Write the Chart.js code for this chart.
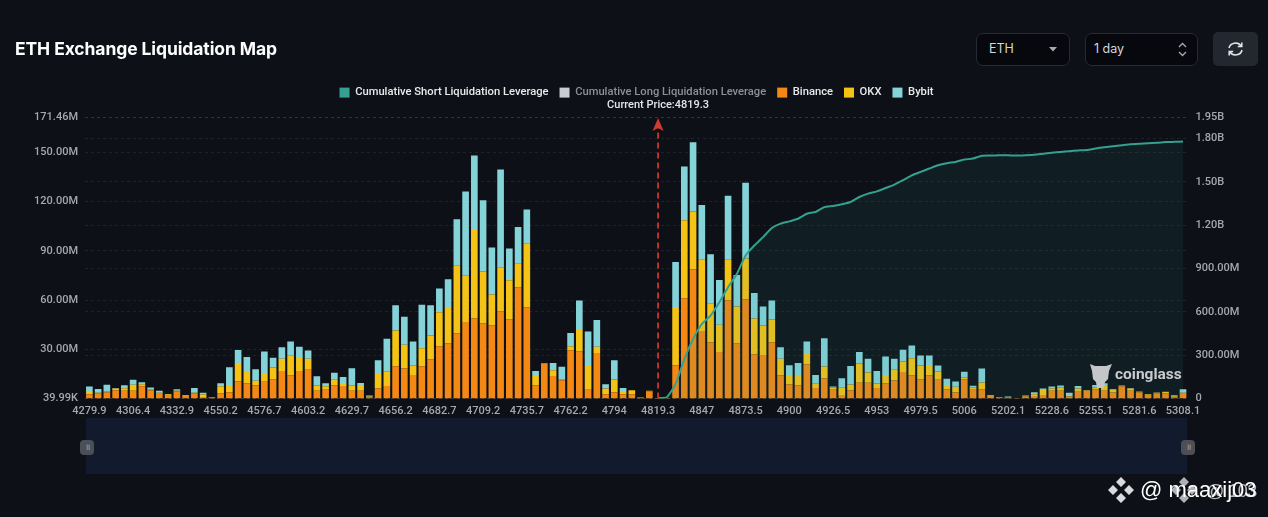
<!DOCTYPE html>
<html><head><meta charset="utf-8">
<script src="https://cdn.jsdelivr.net/npm/chart.js@4"></script>
<style>
html,body{margin:0;padding:0;background:#0d1017;width:1268px;height:517px;overflow:hidden;font-family:Roboto,sans-serif}
#c{position:absolute;left:0;top:0}
.abs{position:absolute}
#title{left:15px;top:38px;color:#fff;font:700 17.5px Inter,sans-serif;line-height:22px;letter-spacing:-.1px}
.sel{top:33px;height:31px;background:#06080d;border:1px solid #262a33;border-radius:7px;color:#d4d6da;font:12.5px Inter,sans-serif;line-height:30px;box-sizing:content-box}
#btn{left:1213px;top:32px;width:45px;height:34px;background:#23272f;border-radius:5px}
#slider{left:86px;top:418px;width:1101px;height:56px;background:#121a2d}
.handle{top:440px;width:14px;height:15px;background:#4c4f55;border-radius:4px;color:#a8aaad;font:9px Roboto;text-align:center;line-height:14px}
#cg{left:1115px;top:363px;color:#c9cbce;font:700 15.5px Roboto,sans-serif;line-height:22px}
.wm{color:#fff;font:22px "Liberation Sans",sans-serif;line-height:26px;white-space:nowrap}
</style></head><body>
<canvas id="c" width="1268" height="517"></canvas>
<div class="abs" id="title">ETH Exchange Liquidation Map</div>
<div class="abs sel" style="left:976px;width:92px"><span style="margin-left:12px">ETH</span>
 <svg class="abs" style="left:72px;top:13px" width="8" height="5"><path d="M0 0H8L4 4.5Z" fill="#a8aab0"/></svg></div>
<div class="abs sel" style="left:1085px;width:111px"><span style="margin-left:8px">1 day</span>
 <svg class="abs" style="left:92px;top:8px" width="9" height="15"><path d="M1 5L4.5 1.5L8 5M1 10L4.5 13.5L8 10" fill="none" stroke="#a8aab0" stroke-width="1.3"/></svg></div>
<div class="abs" id="btn"><svg class="abs" style="left:14px;top:9px" width="17" height="16" viewBox="0 0 17 16" fill="none" stroke="#e6e7e9" stroke-width="1.5">
 <path d="M2 7A6.5 6 0 0 1 14 5M15 9A6.5 6 0 0 1 3 11"/><path d="M14.8 1.6V5.6H10.8M2.2 14.4V10.4H6.2"/></svg></div>
<div class="abs" id="slider"></div>
<div class="abs handle" style="left:80px">॥</div>
<div class="abs handle" style="left:1181px">॥</div>
<svg class="abs" style="left:1089px;top:362px" width="24" height="27" viewBox="0 0 24 27"><path d="M1 2L6 4H17L23 2L20 9L19 17L16 20L15 26H8L7 20L4 17L3 9Z" fill="#c4c6c9"/></svg>
<div class="abs" id="cg">coinglass</div>
<svg class="abs" style="left:1107px;top:476px" width="28" height="28" viewBox="0 0 28 28" fill="#d9dadc"><path d="M14 1L19 6L14 11L9 6ZM6 9L11 14L6 19L1 14ZM22 9L27 14L22 19L17 14ZM14 17L19 22L14 27L9 22Z"/></svg>
<svg class="abs" style="left:1170px;top:476px" width="28" height="28" viewBox="0 0 28 28" fill="#d9dadc" opacity=".8"><path d="M14 1L19 6L14 11L9 6ZM6 9L11 14L6 19L1 14ZM22 9L27 14L22 19L17 14ZM14 17L19 22L14 27L9 22Z"/></svg>
<div class="abs wm" style="left:1140px;top:477px">@ maaxij03</div>
<div class="abs wm" style="left:1206px;top:478px;opacity:.7;font-size:18px;letter-spacing:-.5px">@ 103</div>
<script>
const tickLabels=["4279.9","4306.4","4332.9","4550.2","4576.7","4603.2","4629.7","4656.2","4682.7","4709.2","4735.7","4762.2","4794","4819.3","4847","4873.5","4900","4926.5","4953","4979.5","5006","5202.1","5228.6","5255.1","5281.6","5308.1"];
const leftTickValues=[0.03999,30,60,90,120,150,171.46];
const leftTickLabels=["39.99K","30.00M","60.00M","90.00M","120.00M","150.00M","171.46M"];
const rightTickValues=[0,300,600,900,1200,1500,1800,1950];
const rightTickLabels=["0","300.00M","600.00M","900.00M","1.20B","1.50B","1.80B","1.95B"];
const currentPriceLabel="Current Price:4819.3";
const currentPriceIndex=65;
const binance=[2.6,3.2,3.9,5.1,4.7,4.7,7.5,4.9,3.0,2.2,4.3,1.6,3.2,1.0,0.4,3.2,3.9,10.4,9.3,8.1,10.2,11.8,16.8,14.2,16.8,17.5,4.7,5.3,7.9,7.7,4.7,4.7,0.6,6.1,7.7,19.7,18.3,14.4,19.7,24.0,31.7,33.7,39.8,46.7,48.9,45.9,44.7,53.2,48.3,67.8,55.6,8.1,21.3,13.8,11.2,29.2,28.8,5.3,27.8,2.6,3.7,2.6,2.6,0.2,4.5,0.2,0.2,20.3,61.1,78.8,41.2,34.1,28.4,59.9,33.7,60.5,27.0,26.0,34.3,14.0,8.7,7.9,20.9,6.5,12.4,5.3,2.2,4.9,9.7,9.7,6.5,9.3,11.0,16.2,14.0,11.8,14.2,11.4,5.7,3.7,11.8,5.3,5.7,1.6,0.4,0.6,0.2,1.2,1.6,2.2,4.7,4.7,1.2,4.1,4.7,5.7,4.7,3.7,7.3,4.7,3.7,2.2,3.2,3.2,0.6,3.0];
const okx=[2.0,0.4,0.4,1.0,1.6,3.7,1.2,0.6,0.6,0.4,0.4,0.4,0.4,1.4,0.2,4.3,3.7,11.2,7.5,2.8,5.3,7.1,7.5,12.2,8.5,6.7,3.2,2.2,3.5,1.8,3.2,3.0,0.6,9.5,8.7,21.7,14.4,5.7,11.0,14.4,20.9,22.1,41.4,28.4,53.8,31.5,18.7,26.8,23.8,14.6,39.0,5.7,0.1,3.5,0.4,2.6,13.0,15.2,3.7,3.5,7.9,2.0,2.4,0.2,0.2,0.1,0.1,35.5,47.5,35.1,43.6,24.0,16.6,24.6,22.3,24.8,21.7,18.5,13.8,10.2,5.1,5.9,6.9,2.8,7.1,1.4,4.7,3.7,11.6,6.1,2.6,5.1,6.9,6.3,10.6,8.3,6.3,5.1,2.6,3.5,1.0,1.5,4.1,0.4,0.2,0.4,0.1,0.6,1.0,3.0,1.4,2.0,0.4,2.0,0.4,1.0,3.0,1.6,0.4,1.4,0.4,0.4,0.4,0.8,0.8,0.6];
const bybit=[2.8,2.2,4.1,0.4,1.8,3.0,1.2,1.2,1.2,0.2,1.0,0.1,2.8,1.2,0.2,1.8,11.4,7.9,8.5,6.9,13.2,5.9,6.9,8.3,6.3,5.1,5.7,1.8,4.3,3.7,10.6,1.8,0.6,7.7,20.1,15.4,17.1,14.6,26.4,18.5,14.4,16.8,28.0,51.0,45.3,43.4,28.6,59.5,19.3,22.1,20.5,3.0,0.2,4.3,7.7,8.1,17.9,20.3,16.4,2.6,11.8,1.8,0.1,0.2,0.1,0.1,0.1,27.4,32.7,42.2,33.1,29.8,27.2,39.0,19.3,46.1,15.6,11.6,11.6,7.1,6.5,7.9,6.9,5.1,17.3,0.6,5.5,11.2,7.1,8.5,7.7,11.2,6.3,7.3,7.7,6.1,5.7,3.7,3.7,3.2,3.5,1.0,8.5,0.2,0.2,0.2,0.1,0.1,1.2,1.0,1.2,1.2,2.0,1.6,0.1,1.6,1.6,0.6,0.2,0.4,0.2,0.1,0.1,0.2,0.6,2.0];
const cumulativeShort=[null,null,null,null,null,null,null,null,null,null,null,null,null,null,null,null,null,null,null,null,null,null,null,null,null,null,null,null,null,null,null,null,null,null,null,null,null,null,null,null,null,null,null,null,null,null,null,null,null,null,null,null,null,null,null,null,null,null,null,null,null,null,null,null,null,2,9,100,273,412,516,574,667,771,863,991,1060,1118,1181,1211,1227,1245,1280,1292,1326,1333,1345,1361,1396,1419,1435,1458,1482,1512,1546,1570,1593,1616,1630,1639,1655,1662,1681,1683,1685,1685,1683,1685,1688,1695,1702,1708,1713,1718,1722,1732,1741,1748,1755,1762,1764,1769,1771,1776,1778,1780];
const cumulativeLong=[];
const categories=[];
tickLabels.forEach((t,i)=>{categories.push(t);if(i<tickLabels.length-1)categories.push("","","","");});

const legendHeight={id:'legendHeight',beforeLayout(ch){
  const l=ch.legend;if(!l||l._wrapped)return;const f=l.fit;l._wrapped=true;
  l.fit=function(){f.call(this);this.height=41;};
}};
const priceMarker={id:'priceMarker',afterDatasetsDraw(ch){
  const c=ch.ctx,x=ch.scales.x.getPixelForValue(currentPriceIndex),b=ch.scales.y.bottom,t=ch.chartArea.top;
  c.save();c.strokeStyle='#cc352d';c.fillStyle='#d13a31';c.lineWidth=1.8;c.setLineDash([6,4]);
  c.beginPath();c.moveTo(x,b);c.lineTo(x,t+10);c.stroke();c.setLineDash([]);
  c.beginPath();c.moveTo(x,t+1);c.lineTo(x+5.5,t+14);c.lineTo(x,t+11);c.lineTo(x-5.5,t+14);c.closePath();c.fill();
  c.fillStyle='#e4e5e7';c.font='500 11px Roboto';c.textAlign='center';c.textBaseline='middle';
  c.fillText(currentPriceLabel,x,t-11.5);c.restore();
}};
new Chart(document.getElementById('c'),{
  type:'bar',
  plugins:[legendHeight,priceMarker],
  data:{labels:categories,datasets:[
    {type:'line',label:'Cumulative Short Liquidation Leverage',data:cumulativeShort,yAxisID:'y1',borderColor:'#35a08f',backgroundColor:'rgba(53,160,143,0.10)',borderWidth:2,pointRadius:0,tension:0.15,fill:'origin',order:0,spanGaps:false},
    {type:'line',label:'Cumulative Long Liquidation Leverage',data:cumulativeLong,yAxisID:'y1',borderColor:'#c9ccd0',backgroundColor:'#c9ccd0',borderWidth:2,pointRadius:0,order:0},
    {label:'Binance',data:binance,backgroundColor:'#f38814',stack:'a',order:1,yAxisID:'y'},
    {label:'OKX',data:okx,backgroundColor:'#f5c316',stack:'a',order:1,yAxisID:'y'},
    {label:'Bybit',data:bybit,backgroundColor:'#84d3d9',stack:'a',order:1,yAxisID:'y'}
  ]},
  options:{
    responsive:false,animation:false,maintainAspectRatio:false,
    layout:{padding:{top:76,left:5,right:0,bottom:0}},
    datasets:{bar:{categoryPercentage:1,barPercentage:0.76}},
    plugins:{tooltip:{enabled:false},title:{display:false},
      legend:{position:'top',align:'center',onClick:null,labels:{
        font:{family:'Roboto',size:11.2,weight:'500'},boxWidth:10,boxHeight:10,padding:11,
        generateLabels(ch){return ch.data.datasets.map((d,i)=>({
          text:d.label,datasetIndex:i,fillStyle:d.type==='line'?d.borderColor:d.backgroundColor,strokeStyle:'transparent',lineWidth:0,
          fontColor:i===1?'#8d9095':'#e9eaec'}));}
      }}},
    scales:{
      x:{stacked:true,grid:{display:false,drawTicks:false},border:{display:false},
         afterFit(s){s.height=118.5;},
         ticks:{autoSkip:false,maxRotation:0,minRotation:0,padding:6,color:'#a6a8ab',font:{family:'Roboto',size:11,weight:'500'}}},
      y:{stacked:true,position:'left',min:leftTickValues[0],max:leftTickValues[leftTickValues.length-1],
         afterFit(s){s.width=80;},
         afterBuildTicks(s){s.ticks=leftTickValues.map(v=>({value:v}));},
         grid:{color:'rgba(255,255,255,0.08)',drawTicks:false},border:{display:false,dash:[3,3]},
         ticks:{padding:7,color:'#a6a8ab',font:{family:'Roboto',size:11,weight:'500'},callback:v=>leftTickLabels[leftTickValues.indexOf(v)]}},
      y1:{position:'right',min:0,max:rightTickValues[rightTickValues.length-1],
         afterFit(s){s.width=80.6;},
         afterBuildTicks(s){s.ticks=rightTickValues.map(v=>({value:v}));},
         grid:{color:'rgba(255,255,255,0.08)',drawTicks:false},border:{display:false,dash:[3,3]},
         ticks:{padding:8,color:'#a6a8ab',font:{family:'Roboto',size:11,weight:'500'},callback:v=>rightTickLabels[rightTickValues.indexOf(v)]}}
    }
  }
});
</script>
</body></html>
